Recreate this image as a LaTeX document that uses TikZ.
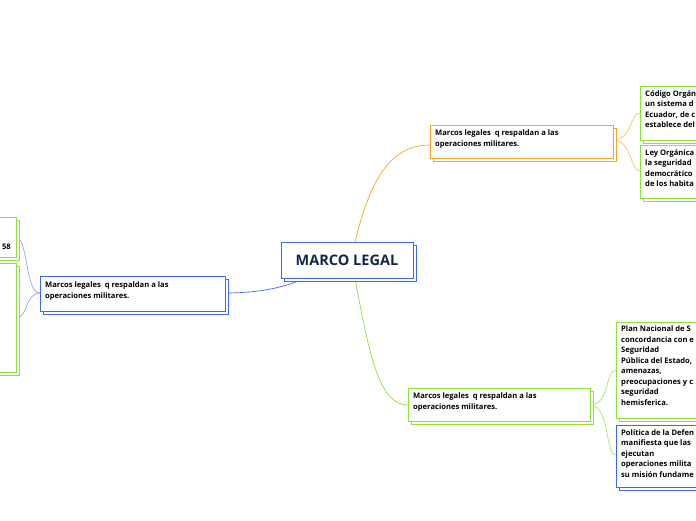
\documentclass[tikz,border=0pt]{standalone}
\usepackage{fontspec}
\setmainfont{Open Sans}
\begin{document}
\begin{tikzpicture}[x=1pt,y=-1pt,
  txt/.style={font=\bfseries\fontsize{7.6}{10.5}\selectfont,align=left,anchor=north west,inner sep=0pt,text=black},
  con/.style={line width=0.7pt}]
\useasboundingbox (0,0) rectangle (696,520);
\clip (0,0) rectangle (696,520);
\definecolor{bl}{HTML}{3D6BF0}
\definecolor{gr}{HTML}{8CE33A}
\definecolor{orc}{HTML}{F5A623}
\definecolor{navy}{HTML}{14254F}
\newcommand\mmbox[6]{% x1 y1 x2 y2 color name
  \draw[#5,line width=0.8pt,fill=white] (#1+3,#2+3) rectangle (#3+3,#4+3);
  \draw[#5,line width=0.8pt,fill=white] (#1,#2) rectangle (#3,#4);
  \coordinate (#6) at (#1,#2);}
% connectors
\draw[con,orc] (355,242) .. controls (370,180) and (390,145) .. (430,145);
\draw[con,gr] (355,278) .. controls (370,360) and (380,405) .. (408,405);
\draw[con,bl] (305,278) .. controls (280,290) and (250,293) .. (225,293);
\draw[con,orc!70] (613,140) .. controls (632,140) and (630,113) .. (640,113);
\draw[con,orc!70] (613,140) .. controls (632,140) and (630,171) .. (640,171);
\draw[con,gr!80] (590,405) .. controls (610,405) and (605,370) .. (616,370);
\draw[con,gr!80] (590,405) .. controls (610,405) and (605,455) .. (616,455);
\draw[con,bl!60] (40,293) .. controls (25,293) and (28,237) .. (16,237);
\draw[con,bl!60] (40,293) .. controls (25,293) and (28,318) .. (16,318);
% central
\mmbox{281}{242}{413}{278}{bl}{c}
\node[font=\bfseries\fontsize{14.5}{16}\selectfont,text=navy] (ct) at (347,260) {MARCO LEGAL};
% branches
\mmbox{430}{125}{613}{158}{orc}{b1}
\node[txt] (t1) at (435,130) {Marcos legales\ \ q respaldan a las\\operaciones militares.};
\mmbox{408}{388}{590}{421}{gr}{b2}
\node[txt] (t2) at (413,393) {Marcos legales\ \ q respaldan a las\\operaciones militares.};
\mmbox{40}{276}{225}{311}{bl}{b3}
\node[txt] (t3) at (45,282) {Marcos legales\ \ q respaldan a las\\operaciones militares.};
% children right top
\mmbox{640}{86}{720}{140}{gr}{k1}
\node[txt] (tk1) at (645,90) {Código Orgán\\un sistema d\\Ecuador, de c\\establece del};
\mmbox{640}{145}{720}{198}{gr}{k2}
\node[txt] (tk2) at (645,149) {Ley Orgánica\\la seguridad\\democrático\\de los habita};
% children right bottom
\mmbox{616}{322}{720}{418}{gr}{k3}
\node[txt] (tk3) at (621,326) {Plan Nacional de S\\concordancia con e\\Seguridad\\Pública del Estado,\\amenazas,\\preocupaciones y c\\seguridad\\hemisferica.};
\mmbox{616}{425}{720}{487}{bl}{k4}
\node[txt] (tk4) at (621,429) {Política de la Defen\\manifiesta que las\\ejecutan\\operaciones milita\\su misión fundame};
% children left
\mmbox{-20}{217}{16}{257}{gr}{k5}
\node[txt,anchor=east] (tk5) at (11,247) {58};
\mmbox{-20}{263}{16}{372}{gr}{k6}
\end{tikzpicture}
\end{document}
